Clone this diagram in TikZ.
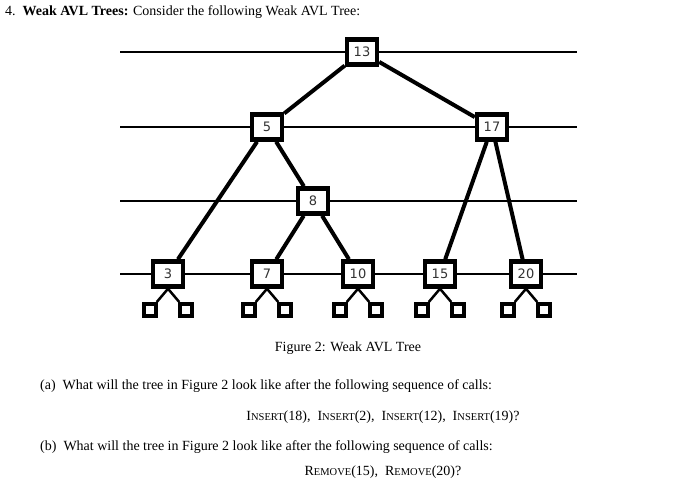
\documentclass[tikz,border=0pt]{standalone}
\usepackage{fontspec}
\setmainfont{Liberation Serif}
\newfontfamily\nodefont{DejaVu Sans}
\newcommand{\scx}[2]{#1{\fontsize{10.5}{12}\selectfont #2}}
\begin{document}
\begin{tikzpicture}[x=1pt,y=-1pt,
  tn/.style={draw=black,line width=4.5pt,fill=white,minimum width=30pt,minimum height=25pt,inner sep=1pt,font=\nodefont\fontsize{13}{14}\selectfont,text=black!80},
  lf/.style={draw=black,line width=4pt,fill=white,minimum size=12pt,inner sep=0pt},
  ed/.style={line width=4pt},
  le/.style={line width=2.5pt},
  hl/.style={line width=1.8pt},
  tx/.style={font=\fontsize{14}{16}\selectfont,inner sep=0pt}]
\useasboundingbox (0,0) rectangle (700,491);
\foreach \y in {52,127,201,274} \draw[hl] (120,\y) -- (577,\y);
\node[tn] (n13) at (362,52) {13};
\node[tn] (n5) at (267,127) {5};
\node[tn] (n17) at (492,127) {17};
\node[tn] (n8) at (313,201) {8};
\node[tn] (n3) at (168,274) {3};
\node[tn] (n7) at (267,274) {7};
\node[tn] (n10) at (358,274) {10};
\node[tn] (n15) at (440,274) {15};
\node[tn] (n20) at (526,274) {20};
\draw[ed] (n13) -- (n5); \draw[ed] (n13) -- (n17);
\draw[ed] (n5) -- (n3); \draw[ed] (n5) -- (n8);
\draw[ed] (n8) -- (n7); \draw[ed] (n8) -- (n10);
\draw[ed] (n17) -- (n15); \draw[ed] (n17) -- (n20);
\foreach \p/\x in {n3/168,n7/267,n10/358,n15/440,n20/526}{
  \node[lf] (\p a) at (\x-18,310) {};
  \node[lf] (\p b) at (\x+18,310) {};
  \draw[le] (\p.south) -- (\p a); \draw[le] (\p.south) -- (\p b);
}
\node[tx,anchor=west] (h) at (5,12) {4.\ \ \textbf{Weak AVL Trees:} Consider the following Weak AVL Tree:};
\node[tx] (cap) at (348,348) {Figure 2: Weak AVL Tree};
\node[tx,anchor=west] (qa) at (40,386) {(a)\ \ What will the tree in Figure 2 look like after the following sequence of calls:};
\node[tx] (ia) at (383,417) {\scx{I}{NSERT}(18),\ \ \scx{I}{NSERT}(2),\ \ \scx{I}{NSERT}(12),\ \ \scx{I}{NSERT}(19)?};
\node[tx,anchor=west] (qb) at (40,447) {(b)\ \ What will the tree in Figure 2 look like after the following sequence of calls:};
\node[tx] (ib) at (383,472) {\scx{R}{EMOVE}(15),\ \ \scx{R}{EMOVE}(20)?};
\end{tikzpicture}
\end{document}
